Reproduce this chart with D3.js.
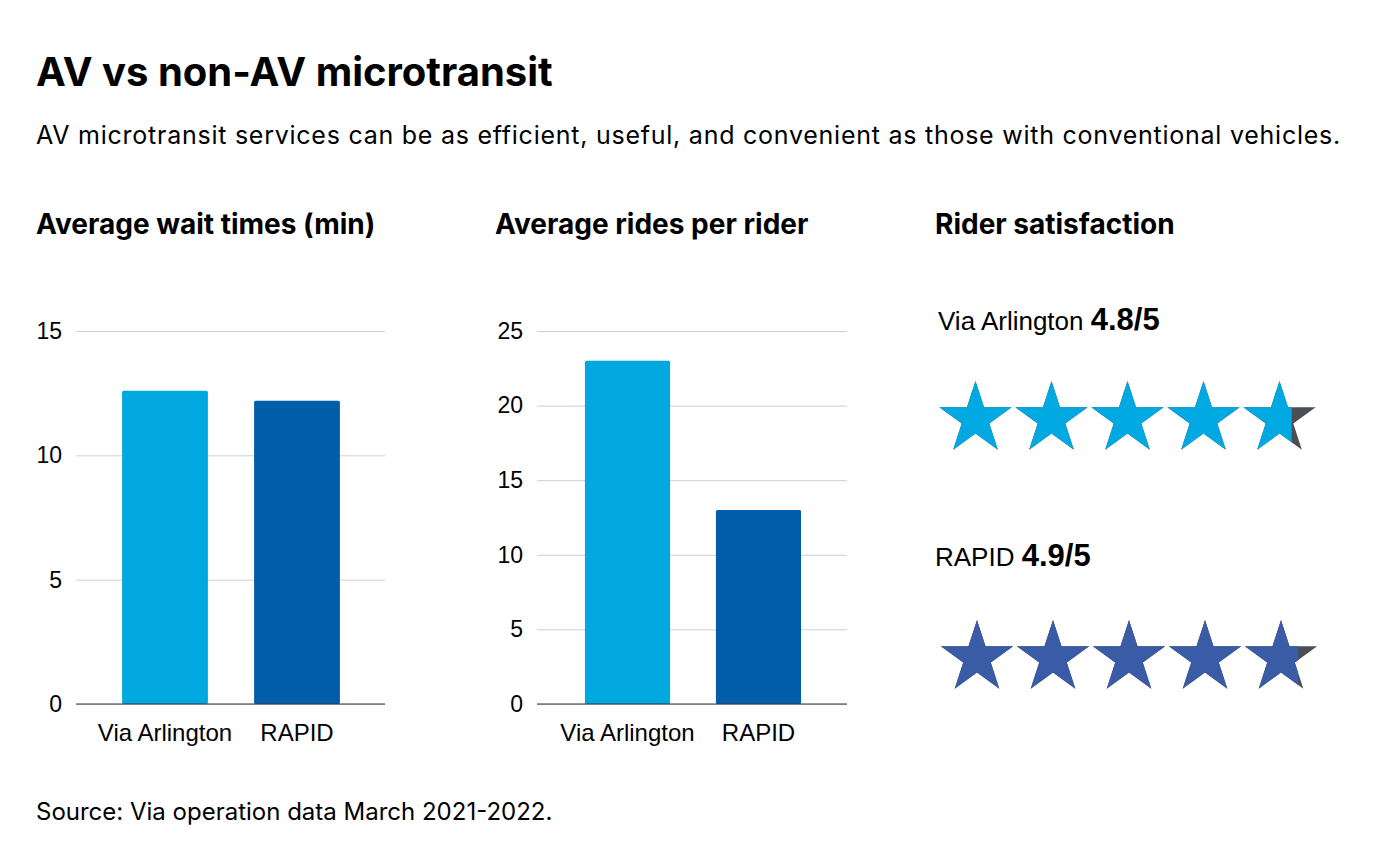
<!DOCTYPE html>
<html>
<head>
<meta charset="utf-8">
<script src="https://cdn.jsdelivr.net/npm/d3@7"></script>
<style>
  body { margin: 0; background: #fff; }
  svg text { fill: #000; }
</style>
</head>
<body>
<div id="canvas"></div>
<script>
// data
const operators = ['Via Arlington', 'RAPID']
const waitTimes = [12.6, 12.2]
const ridesPerRider = [23, 13]
const waitTicks = [0, 5, 10, 15]
const rideTicks = [0, 5, 10, 15, 20, 25]
const ratings = [4.8, 4.9]
const ratingMax = 5

const barColors = ['#00A8E0', '#005DA9']
const starColors = ['#00A9E1', '#3A5BA6']
const emptyStar = '#4B4F55'

const width = 1382
const height = 863
const sans = 'Inter, "Noto Sans", sans-serif'
const arial = '"Liberation Sans", Arial, sans-serif'

let svg = d3.select('#canvas').append('svg')
    .attr('width', width)
    .attr('height', height)

// header
svg.append('text')
    .attr('x', 36).attr('y', 86)
    .attr('font-family', sans).attr('font-weight', 700).attr('font-size', 40)
    .text('AV vs non-AV microtransit')

svg.append('text')
    .attr('x', 36).attr('y', 144)
    .attr('font-family', sans).attr('font-size', 25).attr('letter-spacing', 0.75)
    .text('AV microtransit services can be as efficient, useful, and convenient as those with conventional vehicles.')

let headings = [['Average wait times (min)', 36], ['Average rides per rider', 495], ['Rider satisfaction', 935]]
headings.forEach(h => {
    svg.append('text')
        .attr('x', h[1]).attr('y', 234)
        .attr('font-family', sans).attr('font-weight', 700).attr('font-size', 28)
        .text(h[0])
})

svg.append('text')
    .attr('x', 36).attr('y', 820)
    .attr('font-family', sans).attr('font-size', 24)
    .text('Source: Via operation data March 2021-2022.')

/**
 * draw one small bar chart
 */
function barChart(values, ticks, gridX, bandX) {
    let g = svg.append('g')
    let y = d3.scaleLinear()
        .domain([0, d3.max(ticks)])
        .range([704, 331])
    let x = d3.scaleBand()
        .domain(operators)
        .range(bandX)
        .paddingInner(0.35)
        .paddingOuter(0.175)

    // grid + tick labels
    let yAxis = d3.axisLeft(y)
        .tickValues(ticks)
        .tickSize(-(gridX[1] - gridX[0]))
        .tickPadding(14)
        .tickFormat(d3.format('d'))

    g.append('g')
        .attr('transform', 'translate(' + gridX[0] + ',0)')
        .call(yAxis)
        .call(a => a.select('.domain').remove())
        .call(a => a.selectAll('line').attr('stroke', '#d0d0d0'))
        .call(a => a.selectAll('text')
            .attr('font-family', arial)
            .attr('font-size', 23)
            .attr('fill', '#222'))

    g.selectAll('rect')
        .data(values)
        .enter()
        .append('rect')
        .attr('x', (d, i) => x(operators[i]))
        .attr('y', d => y(d))
        .attr('width', x.bandwidth())
        .attr('height', d => y(0) - y(d))
        .attr('rx', 1.5)
        .attr('fill', (d, i) => barColors[i])

    // baseline
    g.append('line')
        .attr('x1', gridX[0]).attr('x2', gridX[1])
        .attr('y1', y(0)).attr('y2', y(0))
        .attr('stroke', '#333')

    let xAxis = d3.axisBottom(x).tickSize(0).tickPadding(20)
    g.append('g')
        .attr('transform', 'translate(0,' + y(0) + ')')
        .call(xAxis)
        .call(a => a.select('.domain').remove())
        .call(a => a.selectAll('text')
            .attr('font-family', arial)
            .attr('font-size', 24)
            .attr('fill', '#222'))
}

barChart(waitTimes, waitTicks, [76, 385], [99, 363])
barChart(ridesPerRider, rideTicks, [537, 847], [562, 824])

// stars
let R = 38
let starPts = d3.range(10).map(i => {
    let a = i * Math.PI / 5
    let r = i % 2 === 0 ? R : R * 0.382
    return [r * Math.sin(a), -r * Math.cos(a)]
})
let starPath = d3.line()(starPts) + 'Z'

// keep the part of the polygon left of x = c
function clipLeft(poly, c) {
    let out = []
    for (let i = 0; i < poly.length; i++) {
        let p = poly[i]
        let q = poly[(i + 1) % poly.length]
        let pin = p[0] <= c
        let qin = q[0] <= c
        if (pin) out.push(p)
        if (pin !== qin) {
            let t = (c - p[0]) / (q[0] - p[0])
            out.push([c, p[1] + t * (q[1] - p[1])])
        }
    }
    return out
}
let starArea = Math.abs(d3.polygonArea(starPts))
let xMin = d3.min(starPts, p => p[0])
let xMax = d3.max(starPts, p => p[0])

// x where the filled area fraction = f
function fillEdge(f) {
    let lo = xMin, hi = xMax
    for (let k = 0; k < 40; k++) {
        let mid = (lo + hi) / 2
        let pts = clipLeft(starPts, mid)
        let a = pts.length > 2 ? Math.abs(d3.polygonArea(pts)) : 0
        if (a / starArea < f) lo = mid
        else hi = mid
    }
    return lo
}

let defs = svg.append('defs')
let rows = [
    { labelX: 938, labelY: 330, cx: 975.5, cy: 419 },
    { labelX: 935, labelY: 566, cx: 977, cy: 658 }
]

ratings.forEach((rating, ri) => {
    let row = rows[ri]
    let t = svg.append('text')
        .attr('x', row.labelX).attr('y', row.labelY)
        .attr('font-family', arial).attr('font-size', 26)
    t.append('tspan').text(operators[ri] + ' ')
    t.append('tspan').attr('font-weight', 700).attr('font-size', 31).text(rating + '/' + ratingMax)

    let sx = d3.scaleLinear().domain([0, 1]).range([row.cx, row.cx + 76])
    let stars = d3.range(ratingMax).map(i => Math.max(0, Math.min(1, rating - i)))

    let g = svg.append('g')
    stars.forEach((f, i) => {
        let cx = sx(i)
        let id = 'clip-' + ri + '-' + i
        defs.append('clipPath').attr('id', id)
            .append('rect')
            .attr('x', xMin - 1)
            .attr('y', -R - 1)
            .attr('width', fillEdge(f) - xMin + 1)
            .attr('height', 2 * R + 2)

        let s = g.append('g').attr('transform', 'translate(' + cx + ',' + row.cy + ')')
        s.append('path').attr('d', starPath).attr('fill', emptyStar)
        s.append('path').attr('d', starPath)
            .attr('fill', starColors[ri])
            .attr('clip-path', 'url(#' + id + ')')
    })
})
</script>
</body>
</html>
